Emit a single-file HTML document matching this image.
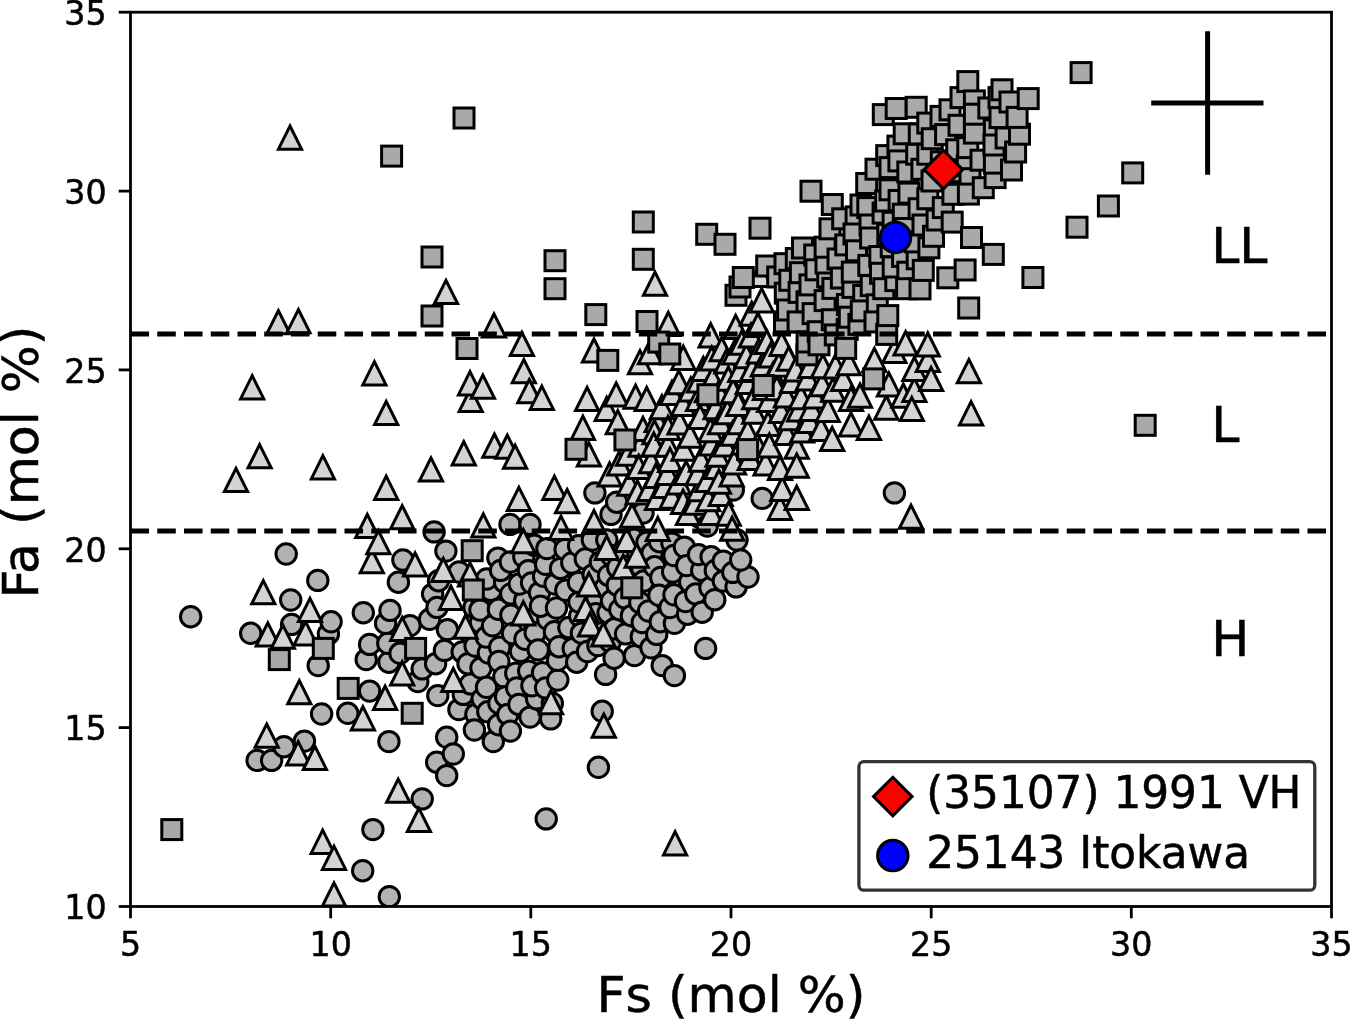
<!DOCTYPE html>
<html><head><meta charset="utf-8"><title>Fa vs Fs</title>
<style>
html,body{margin:0;padding:0;background:#fff;}
svg{display:block;}
text{font-family:"DejaVu Sans","Liberation Sans",sans-serif;fill:#000;stroke:#000;stroke-width:0.5px;}
</style></head><body>
<svg width="1350" height="1019" viewBox="0 0 1350 1019">
<rect width="1350" height="1019" fill="#fff"/>
<defs><clipPath id="ax"><rect x="130.5" y="12.2" width="1201.0" height="894.3"/></clipPath></defs>
<g clip-path="url(#ax)">
<g id="H" fill="#b2b2b2" stroke="#000" stroke-width="3.0">
<circle cx="190.7" cy="616.7" r="10.2"/>
<circle cx="257.1" cy="760.4" r="10.2"/>
<circle cx="250.7" cy="633.3" r="10.2"/>
<circle cx="271.6" cy="760.4" r="10.2"/>
<circle cx="284" cy="746.7" r="10.2"/>
<circle cx="291.6" cy="624.4" r="10.2"/>
<circle cx="290.7" cy="600" r="10.2"/>
<circle cx="286.2" cy="554" r="10.2"/>
<circle cx="304.4" cy="741.1" r="10.2"/>
<circle cx="318.2" cy="665.6" r="10.2"/>
<circle cx="317.8" cy="580.4" r="10.2"/>
<circle cx="321.6" cy="714" r="10.2"/>
<circle cx="328.4" cy="634" r="10.2"/>
<circle cx="331.1" cy="621.8" r="10.2"/>
<circle cx="347.8" cy="713.3" r="10.2"/>
<circle cx="362.7" cy="870.7" r="10.2"/>
<circle cx="372.9" cy="829.6" r="10.2"/>
<circle cx="363.3" cy="612.7" r="10.2"/>
<circle cx="366.2" cy="659.6" r="10.2"/>
<circle cx="369.6" cy="644.4" r="10.2"/>
<circle cx="369.6" cy="691.1" r="10.2"/>
<circle cx="389.3" cy="896.7" r="10.2"/>
<circle cx="388.9" cy="741.6" r="10.2"/>
<circle cx="388.9" cy="662.2" r="10.2"/>
<circle cx="387.8" cy="643.3" r="10.2"/>
<circle cx="385.6" cy="623.3" r="10.2"/>
<circle cx="390" cy="610.4" r="10.2"/>
<circle cx="400" cy="653.3" r="10.2"/>
<circle cx="398.4" cy="582.2" r="10.2"/>
<circle cx="402.9" cy="560" r="10.2"/>
<circle cx="410" cy="625.6" r="10.2"/>
<circle cx="417.8" cy="681.5" r="10.2"/>
<circle cx="422.2" cy="798.9" r="10.2"/>
<circle cx="422.2" cy="668.9" r="10.2"/>
<circle cx="436.7" cy="762.2" r="10.2"/>
<circle cx="429.6" cy="619.3" r="10.2"/>
<circle cx="432.6" cy="594.1" r="10.2"/>
<circle cx="437" cy="607.4" r="10.2"/>
<circle cx="435.6" cy="663.7" r="10.2"/>
<circle cx="437.8" cy="695.6" r="10.2"/>
<circle cx="438.5" cy="580.7" r="10.2"/>
<circle cx="446.7" cy="775.6" r="10.2"/>
<circle cx="434.1" cy="531.9" r="10.2"/>
<circle cx="444.4" cy="650.4" r="10.2"/>
<circle cx="446.7" cy="737.3" r="10.2"/>
<circle cx="447.4" cy="629.6" r="10.2"/>
<circle cx="453.3" cy="754" r="10.2"/>
<circle cx="445.9" cy="551.1" r="10.2"/>
<circle cx="458.9" cy="709.6" r="10.2"/>
<circle cx="459" cy="572" r="10.2"/>
<circle cx="462.2" cy="651.9" r="10.2"/>
<circle cx="463.3" cy="694.4" r="10.2"/>
<circle cx="475.9" cy="714.3" r="10.2"/>
<circle cx="470.5" cy="683.9" r="10.2"/>
<circle cx="468" cy="663.7" r="10.2"/>
<circle cx="471" cy="634" r="10.2"/>
<circle cx="474.4" cy="730" r="10.2"/>
<circle cx="474" cy="607.4" r="10.2"/>
<circle cx="475.1" cy="646.1" r="10.2"/>
<circle cx="482.2" cy="698.9" r="10.2"/>
<circle cx="477.8" cy="593.1" r="10.2"/>
<circle cx="481" cy="668" r="10.2"/>
<circle cx="480.5" cy="622.8" r="10.2"/>
<circle cx="480" cy="610" r="10.2"/>
<circle cx="487.8" cy="711.8" r="10.2"/>
<circle cx="488.4" cy="653" r="10.2"/>
<circle cx="486.5" cy="687.3" r="10.2"/>
<circle cx="490.8" cy="590.4" r="10.2"/>
<circle cx="493.3" cy="741.6" r="10.2"/>
<circle cx="486.7" cy="579" r="10.2"/>
<circle cx="486.2" cy="637" r="10.2"/>
<circle cx="498.5" cy="724.7" r="10.2"/>
<circle cx="492.5" cy="625.8" r="10.2"/>
<circle cx="498.9" cy="703.3" r="10.2"/>
<circle cx="499.7" cy="647.2" r="10.2"/>
<circle cx="498.9" cy="661.5" r="10.2"/>
<circle cx="498.4" cy="609.3" r="10.2"/>
<circle cx="503.8" cy="676.9" r="10.2"/>
<circle cx="505.6" cy="696.7" r="10.2"/>
<circle cx="497.9" cy="558.1" r="10.2"/>
<circle cx="507.8" cy="714.4" r="10.2"/>
<circle cx="504.6" cy="582.3" r="10.2"/>
<circle cx="510.4" cy="731.1" r="10.2"/>
<circle cx="500.6" cy="570.4" r="10.2"/>
<circle cx="510.8" cy="593.9" r="10.2"/>
<circle cx="515.8" cy="673.2" r="10.2"/>
<circle cx="510.9" cy="615.1" r="10.2"/>
<circle cx="512.5" cy="633.5" r="10.2"/>
<circle cx="516.7" cy="688" r="10.2"/>
<circle cx="518.9" cy="704.4" r="10.2"/>
<circle cx="510.3" cy="562" r="10.2"/>
<circle cx="510" cy="524.4" r="10.2"/>
<circle cx="520.5" cy="651.3" r="10.2"/>
<circle cx="524.7" cy="600.6" r="10.2"/>
<circle cx="519.3" cy="584" r="10.2"/>
<circle cx="528.7" cy="671.1" r="10.2"/>
<circle cx="525" cy="639.2" r="10.2"/>
<circle cx="523.8" cy="556.8" r="10.2"/>
<circle cx="530" cy="717.1" r="10.2"/>
<circle cx="528.4" cy="570.6" r="10.2"/>
<circle cx="531.6" cy="583" r="10.2"/>
<circle cx="532.4" cy="619.6" r="10.2"/>
<circle cx="536.7" cy="698.9" r="10.2"/>
<circle cx="531.9" cy="685.8" r="10.2"/>
<circle cx="535.2" cy="632.7" r="10.2"/>
<circle cx="530" cy="524.4" r="10.2"/>
<circle cx="546.2" cy="818.9" r="10.2"/>
<circle cx="534.3" cy="545.3" r="10.2"/>
<circle cx="538.2" cy="649.9" r="10.2"/>
<circle cx="542.5" cy="672.7" r="10.2"/>
<circle cx="550.7" cy="718.9" r="10.2"/>
<circle cx="539.5" cy="592.6" r="10.2"/>
<circle cx="547.8" cy="619.3" r="10.2"/>
<circle cx="540.5" cy="606.2" r="10.2"/>
<circle cx="552.3" cy="703.2" r="10.2"/>
<circle cx="543.6" cy="576.3" r="10.2"/>
<circle cx="545.6" cy="687.9" r="10.2"/>
<circle cx="545.6" cy="564.3" r="10.2"/>
<circle cx="546.9" cy="548.6" r="10.2"/>
<circle cx="556.5" cy="608" r="10.2"/>
<circle cx="554.4" cy="631.7" r="10.2"/>
<circle cx="557.8" cy="680" r="10.2"/>
<circle cx="557.5" cy="660.3" r="10.2"/>
<circle cx="555.1" cy="584.1" r="10.2"/>
<circle cx="560.5" cy="568.4" r="10.2"/>
<circle cx="559" cy="646.7" r="10.2"/>
<circle cx="565.1" cy="549.4" r="10.2"/>
<circle cx="573.2" cy="648.4" r="10.2"/>
<circle cx="565.8" cy="590.3" r="10.2"/>
<circle cx="568.9" cy="627.5" r="10.2"/>
<circle cx="579.7" cy="616.1" r="10.2"/>
<circle cx="571.8" cy="563" r="10.2"/>
<circle cx="578.9" cy="602.1" r="10.2"/>
<circle cx="576.7" cy="662.2" r="10.2"/>
<circle cx="578.5" cy="582.4" r="10.2"/>
<circle cx="581.4" cy="633.1" r="10.2"/>
<circle cx="578.6" cy="545.8" r="10.2"/>
<circle cx="587.5" cy="651.5" r="10.2"/>
<circle cx="585.3" cy="559" r="10.2"/>
<circle cx="598.4" cy="767.3" r="10.2"/>
<circle cx="596.7" cy="597" r="10.2"/>
<circle cx="597.9" cy="645.5" r="10.2"/>
<circle cx="600.3" cy="632.5" r="10.2"/>
<circle cx="593.1" cy="574.6" r="10.2"/>
<circle cx="595.8" cy="613.6" r="10.2"/>
<circle cx="592.4" cy="540" r="10.2"/>
<circle cx="602.2" cy="711.3" r="10.2"/>
<circle cx="605.6" cy="674.4" r="10.2"/>
<circle cx="600.4" cy="562.1" r="10.2"/>
<circle cx="594.9" cy="492.9" r="10.2"/>
<circle cx="608.1" cy="613" r="10.2"/>
<circle cx="605.2" cy="588" r="10.2"/>
<circle cx="606.8" cy="539.9" r="10.2"/>
<circle cx="610.3" cy="641.7" r="10.2"/>
<circle cx="614.4" cy="628.8" r="10.2"/>
<circle cx="611.5" cy="600.8" r="10.2"/>
<circle cx="611.3" cy="555.5" r="10.2"/>
<circle cx="608.6" cy="575.4" r="10.2"/>
<circle cx="617.3" cy="585.2" r="10.2"/>
<circle cx="611" cy="514.4" r="10.2"/>
<circle cx="614.1" cy="658.2" r="10.2"/>
<circle cx="619.8" cy="609.7" r="10.2"/>
<circle cx="617.7" cy="567.5" r="10.2"/>
<circle cx="623.1" cy="551.4" r="10.2"/>
<circle cx="625.6" cy="633.9" r="10.2"/>
<circle cx="616.7" cy="502.2" r="10.2"/>
<circle cx="624.9" cy="597.9" r="10.2"/>
<circle cx="631.4" cy="615.7" r="10.2"/>
<circle cx="634.4" cy="655.6" r="10.2"/>
<circle cx="629.7" cy="565.9" r="10.2"/>
<circle cx="638" cy="554.6" r="10.2"/>
<circle cx="634.7" cy="589.9" r="10.2"/>
<circle cx="641.7" cy="567.9" r="10.2"/>
<circle cx="639.8" cy="602.4" r="10.2"/>
<circle cx="641.3" cy="636.7" r="10.2"/>
<circle cx="634.2" cy="539.3" r="10.2"/>
<circle cx="642.2" cy="622.5" r="10.2"/>
<circle cx="643.7" cy="581" r="10.2"/>
<circle cx="643" cy="513" r="10.2"/>
<circle cx="648.6" cy="611" r="10.2"/>
<circle cx="651" cy="647.8" r="10.2"/>
<circle cx="647" cy="542.2" r="10.2"/>
<circle cx="656.7" cy="634.4" r="10.2"/>
<circle cx="652" cy="553.3" r="10.2"/>
<circle cx="662.2" cy="665.6" r="10.2"/>
<circle cx="654.6" cy="566.8" r="10.2"/>
<circle cx="659.5" cy="541.7" r="10.2"/>
<circle cx="660.2" cy="621.7" r="10.2"/>
<circle cx="660.8" cy="577.5" r="10.2"/>
<circle cx="658.9" cy="595.3" r="10.2"/>
<circle cx="674.4" cy="623.3" r="10.2"/>
<circle cx="670" cy="607.5" r="10.2"/>
<circle cx="674.4" cy="675.6" r="10.2"/>
<circle cx="672.7" cy="572" r="10.2"/>
<circle cx="674" cy="594.8" r="10.2"/>
<circle cx="671.9" cy="543.1" r="10.2"/>
<circle cx="674" cy="555.5" r="10.2"/>
<circle cx="689.7" cy="582.1" r="10.2"/>
<circle cx="684.4" cy="547.1" r="10.2"/>
<circle cx="687.6" cy="614.2" r="10.2"/>
<circle cx="686.7" cy="565.6" r="10.2"/>
<circle cx="685.5" cy="601.5" r="10.2"/>
<circle cx="695.8" cy="593.9" r="10.2"/>
<circle cx="702.2" cy="612.2" r="10.2"/>
<circle cx="701.7" cy="570.4" r="10.2"/>
<circle cx="698.5" cy="554.6" r="10.2"/>
<circle cx="705.6" cy="648.4" r="10.2"/>
<circle cx="710" cy="587.8" r="10.2"/>
<circle cx="699" cy="517" r="10.2"/>
<circle cx="714.8" cy="599.7" r="10.2"/>
<circle cx="707.3" cy="526" r="10.2"/>
<circle cx="711.1" cy="556.8" r="10.2"/>
<circle cx="715.3" cy="570.5" r="10.2"/>
<circle cx="723.3" cy="581.1" r="10.2"/>
<circle cx="723.3" cy="561.1" r="10.2"/>
<circle cx="736.1" cy="586.9" r="10.2"/>
<circle cx="733.3" cy="490" r="10.2"/>
<circle cx="732.8" cy="572.4" r="10.2"/>
<circle cx="748" cy="577" r="10.2"/>
<circle cx="737" cy="540" r="10.2"/>
<circle cx="740.7" cy="560" r="10.2"/>
<circle cx="762.2" cy="498.4" r="10.2"/>
<circle cx="894.4" cy="492.9" r="10.2"/>
</g>
<g stroke="#000" stroke-width="5" fill="none">
<line x1="1207.6" y1="31.3" x2="1207.6" y2="174.8"/>
<line x1="1151.2" y1="102.9" x2="1263.5" y2="102.9"/>
</g>
<g id="L" fill="#d3d3d3" stroke="#000" stroke-width="3.0" stroke-linejoin="miter" stroke-miterlimit="10">
<path d="M236 468.4l11.6 23.2h-23.2z"/>
<path d="M266.7 724l11.6 23.2h-23.2z"/>
<path d="M252.2 375.7l11.6 23.2h-23.2z"/>
<path d="M259.6 444.6l11.6 23.2h-23.2z"/>
<path d="M267.8 622.8l11.6 23.2h-23.2z"/>
<path d="M263.3 580.6l11.6 23.2h-23.2z"/>
<path d="M282.9 625.1l11.6 23.2h-23.2z"/>
<path d="M299.3 680.6l11.6 23.2h-23.2z"/>
<path d="M278.4 310.6l11.6 23.2h-23.2z"/>
<path d="M298.2 741.7l11.6 23.2h-23.2z"/>
<path d="M305.6 621.7l11.6 23.2h-23.2z"/>
<path d="M314.9 746.2l11.6 23.2h-23.2z"/>
<path d="M310 598.4l11.6 23.2h-23.2z"/>
<path d="M290 126l11.6 23.2h-23.2z"/>
<path d="M298.4 309.5l11.6 23.2h-23.2z"/>
<path d="M322.7 830.2l11.6 23.2h-23.2z"/>
<path d="M334 882.8l11.6 23.2h-23.2z"/>
<path d="M334 846.2l11.6 23.2h-23.2z"/>
<path d="M322.9 455.7l11.6 23.2h-23.2z"/>
<path d="M362.9 706.7l11.6 23.2h-23.2z"/>
<path d="M367.3 514.4l11.6 23.2h-23.2z"/>
<path d="M371.8 549.5l11.6 23.2h-23.2z"/>
<path d="M385.1 686.2l11.6 23.2h-23.2z"/>
<path d="M378.4 530.6l11.6 23.2h-23.2z"/>
<path d="M398.2 779.1l11.6 23.2h-23.2z"/>
<path d="M374.4 361.7l11.6 23.2h-23.2z"/>
<path d="M386.2 476.2l11.6 23.2h-23.2z"/>
<path d="M386.2 401.3l11.6 23.2h-23.2z"/>
<path d="M402.2 661.7l11.6 23.2h-23.2z"/>
<path d="M402.2 617.3l11.6 23.2h-23.2z"/>
<path d="M418.9 808.4l11.6 23.2h-23.2z"/>
<path d="M402.2 505.6l11.6 23.2h-23.2z"/>
<path d="M415.1 552.8l11.6 23.2h-23.2z"/>
<path d="M431 457.9l11.6 23.2h-23.2z"/>
<path d="M443.3 558.4l11.6 23.2h-23.2z"/>
<path d="M451 586.2l11.6 23.2h-23.2z"/>
<path d="M453.3 668.4l11.6 23.2h-23.2z"/>
<path d="M446 280.4l11.6 23.2h-23.2z"/>
<path d="M465.6 615.1l11.6 23.2h-23.2z"/>
<path d="M470 562.8l11.6 23.2h-23.2z"/>
<path d="M463.8 441.7l11.6 23.2h-23.2z"/>
<path d="M470.7 388.4l11.6 23.2h-23.2z"/>
<path d="M470 371.7l11.6 23.2h-23.2z"/>
<path d="M483.3 513.9l11.6 23.2h-23.2z"/>
<path d="M482.9 375.1l11.6 23.2h-23.2z"/>
<path d="M494.4 434l11.6 23.2h-23.2z"/>
<path d="M494 313.8l11.6 23.2h-23.2z"/>
<path d="M507.3 435.1l11.6 23.2h-23.2z"/>
<path d="M523.3 601.7l11.6 23.2h-23.2z"/>
<path d="M515.1 445.1l11.6 23.2h-23.2z"/>
<path d="M518.9 487.3l11.6 23.2h-23.2z"/>
<path d="M523.3 529.5l11.6 23.2h-23.2z"/>
<path d="M523.8 359.5l11.6 23.2h-23.2z"/>
<path d="M521.9 332.4l11.6 23.2h-23.2z"/>
<path d="M529.3 379.5l11.6 23.2h-23.2z"/>
<path d="M551 690.6l11.6 23.2h-23.2z"/>
<path d="M541.8 386.2l11.6 23.2h-23.2z"/>
<path d="M554.4 476.2l11.6 23.2h-23.2z"/>
<path d="M561 516.2l11.6 23.2h-23.2z"/>
<path d="M567.1 489.5l11.6 23.2h-23.2z"/>
<path d="M585.6 597.4l11.6 23.2h-23.2z"/>
<path d="M582.9 416.2l11.6 23.2h-23.2z"/>
<path d="M589 572.8l11.6 23.2h-23.2z"/>
<path d="M590 612.8l11.6 23.2h-23.2z"/>
<path d="M587.1 387.3l11.6 23.2h-23.2z"/>
<path d="M588.9 442.8l11.6 23.2h-23.2z"/>
<path d="M594 510.4l11.6 23.2h-23.2z"/>
<path d="M603.8 714l11.6 23.2h-23.2z"/>
<path d="M603.3 622.8l11.6 23.2h-23.2z"/>
<path d="M606.7 536.2l11.6 23.2h-23.2z"/>
<path d="M609.6 462.8l11.6 23.2h-23.2z"/>
<path d="M594 338.9l11.6 23.2h-23.2z"/>
<path d="M606.7 397.3l11.6 23.2h-23.2z"/>
<path d="M619.2 451.8l11.6 23.2h-23.2z"/>
<path d="M616.2 382.8l11.6 23.2h-23.2z"/>
<path d="M623.3 555.1l11.6 23.2h-23.2z"/>
<path d="M617.8 410.6l11.6 23.2h-23.2z"/>
<path d="M626.7 528.4l11.6 23.2h-23.2z"/>
<path d="M628 442.1l11.6 23.2h-23.2z"/>
<path d="M629.3 472l11.6 23.2h-23.2z"/>
<path d="M632 504l11.6 23.2h-23.2z"/>
<path d="M636.7 544l11.6 23.2h-23.2z"/>
<path d="M637.5 480.9l11.6 23.2h-23.2z"/>
<path d="M640.5 433l11.6 23.2h-23.2z"/>
<path d="M635.6 385.1l11.6 23.2h-23.2z"/>
<path d="M638.7 455.4l11.6 23.2h-23.2z"/>
<path d="M640 350.6l11.6 23.2h-23.2z"/>
<path d="M646.7 387.3l11.6 23.2h-23.2z"/>
<path d="M649.1 477.3l11.6 23.2h-23.2z"/>
<path d="M651.1 449.6l11.6 23.2h-23.2z"/>
<path d="M643 417.4l11.6 23.2h-23.2z"/>
<path d="M655.8 464.3l11.6 23.2h-23.2z"/>
<path d="M656.7 408.4l11.6 23.2h-23.2z"/>
<path d="M657 486.3l11.6 23.2h-23.2z"/>
<path d="M650 340.6l11.6 23.2h-23.2z"/>
<path d="M675.1 831.7l11.6 23.2h-23.2z"/>
<path d="M654.5 420.6l11.6 23.2h-23.2z"/>
<path d="M657.8 517.3l11.6 23.2h-23.2z"/>
<path d="M653.8 432.9l11.6 23.2h-23.2z"/>
<path d="M661.9 395.6l11.6 23.2h-23.2z"/>
<path d="M664.6 474.2l11.6 23.2h-23.2z"/>
<path d="M655 272.1l11.6 23.2h-23.2z"/>
<path d="M667.7 433l11.6 23.2h-23.2z"/>
<path d="M667.5 461.4l11.6 23.2h-23.2z"/>
<path d="M671.7 485l11.6 23.2h-23.2z"/>
<path d="M670 448.3l11.6 23.2h-23.2z"/>
<path d="M668 416.4l11.6 23.2h-23.2z"/>
<path d="M668.3 312.4l11.6 23.2h-23.2z"/>
<path d="M672 381.4l11.6 23.2h-23.2z"/>
<path d="M679.5 410.9l11.6 23.2h-23.2z"/>
<path d="M678.8 470.7l11.6 23.2h-23.2z"/>
<path d="M683.1 490.2l11.6 23.2h-23.2z"/>
<path d="M683.6 437l11.6 23.2h-23.2z"/>
<path d="M686.1 461.4l11.6 23.2h-23.2z"/>
<path d="M683 392.4l11.6 23.2h-23.2z"/>
<path d="M688 501.4l11.6 23.2h-23.2z"/>
<path d="M678.9 370.6l11.6 23.2h-23.2z"/>
<path d="M683.3 346.2l11.6 23.2h-23.2z"/>
<path d="M690.8 377.8l11.6 23.2h-23.2z"/>
<path d="M690 424l11.6 23.2h-23.2z"/>
<path d="M695.4 491.1l11.6 23.2h-23.2z"/>
<path d="M698.1 387.2l11.6 23.2h-23.2z"/>
<path d="M699.2 477.6l11.6 23.2h-23.2z"/>
<path d="M697.8 461.6l11.6 23.2h-23.2z"/>
<path d="M700 405.4l11.6 23.2h-23.2z"/>
<path d="M699.1 368.8l11.6 23.2h-23.2z"/>
<path d="M700.9 448l11.6 23.2h-23.2z"/>
<path d="M711 501.4l11.6 23.2h-23.2z"/>
<path d="M708.2 487.6l11.6 23.2h-23.2z"/>
<path d="M711 431.9l11.6 23.2h-23.2z"/>
<path d="M703.3 357.3l11.6 23.2h-23.2z"/>
<path d="M707.3 468.4l11.6 23.2h-23.2z"/>
<path d="M710.5 418.6l11.6 23.2h-23.2z"/>
<path d="M710.7 323.7l11.6 23.2h-23.2z"/>
<path d="M706.8 378.6l11.6 23.2h-23.2z"/>
<path d="M716.6 455.3l11.6 23.2h-23.2z"/>
<path d="M720.7 482.4l11.6 23.2h-23.2z"/>
<path d="M717.5 443.1l11.6 23.2h-23.2z"/>
<path d="M718.9 470l11.6 23.2h-23.2z"/>
<path d="M712.5 367.3l11.6 23.2h-23.2z"/>
<path d="M715.6 395.6l11.6 23.2h-23.2z"/>
<path d="M711.7 346.8l11.6 23.2h-23.2z"/>
<path d="M725 432.8l11.6 23.2h-23.2z"/>
<path d="M719 380.8l11.6 23.2h-23.2z"/>
<path d="M720.1 410.6l11.6 23.2h-23.2z"/>
<path d="M721.7 337.5l11.6 23.2h-23.2z"/>
<path d="M731.6 462.7l11.6 23.2h-23.2z"/>
<path d="M726.5 349.8l11.6 23.2h-23.2z"/>
<path d="M728.7 502l11.6 23.2h-23.2z"/>
<path d="M728.3 367l11.6 23.2h-23.2z"/>
<path d="M727.4 400.5l11.6 23.2h-23.2z"/>
<path d="M732.2 517.1l11.6 23.2h-23.2z"/>
<path d="M734 450.7l11.6 23.2h-23.2z"/>
<path d="M733.1 379.5l11.6 23.2h-23.2z"/>
<path d="M732.6 422l11.6 23.2h-23.2z"/>
<path d="M734.5 340.8l11.6 23.2h-23.2z"/>
<path d="M735.7 315.4l11.6 23.2h-23.2z"/>
<path d="M739.1 410.6l11.6 23.2h-23.2z"/>
<path d="M743.3 430.8l11.6 23.2h-23.2z"/>
<path d="M738.2 392.4l11.6 23.2h-23.2z"/>
<path d="M741.8 331.1l11.6 23.2h-23.2z"/>
<path d="M747.7 370.3l11.6 23.2h-23.2z"/>
<path d="M747.7 420.1l11.6 23.2h-23.2z"/>
<path d="M740.2 358.2l11.6 23.2h-23.2z"/>
<path d="M746.4 344.5l11.6 23.2h-23.2z"/>
<path d="M749.8 446.2l11.6 23.2h-23.2z"/>
<path d="M757.2 433.3l11.6 23.2h-23.2z"/>
<path d="M752.2 357.3l11.6 23.2h-23.2z"/>
<path d="M754.2 400.1l11.6 23.2h-23.2z"/>
<path d="M751.7 302.1l11.6 23.2h-23.2z"/>
<path d="M754.2 385.5l11.6 23.2h-23.2z"/>
<path d="M751 323.8l11.6 23.2h-23.2z"/>
<path d="M758.7 339.7l11.6 23.2h-23.2z"/>
<path d="M762.8 352.7l11.6 23.2h-23.2z"/>
<path d="M758 313.4l11.6 23.2h-23.2z"/>
<path d="M765.6 451.7l11.6 23.2h-23.2z"/>
<path d="M760 263.4l11.6 23.2h-23.2z"/>
<path d="M768.1 412.2l11.6 23.2h-23.2z"/>
<path d="M769.1 388.3l11.6 23.2h-23.2z"/>
<path d="M761.7 288.7l11.6 23.2h-23.2z"/>
<path d="M765 376.3l11.6 23.2h-23.2z"/>
<path d="M766.7 330.4l11.6 23.2h-23.2z"/>
<path d="M769.4 433.9l11.6 23.2h-23.2z"/>
<path d="M770.5 343.9l11.6 23.2h-23.2z"/>
<path d="M773 363.1l11.6 23.2h-23.2z"/>
<path d="M780 496.2l11.6 23.2h-23.2z"/>
<path d="M776.8 376.6l11.6 23.2h-23.2z"/>
<path d="M782.2 477.3l11.6 23.2h-23.2z"/>
<path d="M781 399.3l11.6 23.2h-23.2z"/>
<path d="M780 456.2l11.6 23.2h-23.2z"/>
<path d="M778.8 353.1l11.6 23.2h-23.2z"/>
<path d="M781.6 332.2l11.6 23.2h-23.2z"/>
<path d="M786.4 421.4l11.6 23.2h-23.2z"/>
<path d="M785.9 383.9l11.6 23.2h-23.2z"/>
<path d="M796.7 486.2l11.6 23.2h-23.2z"/>
<path d="M792 369.4l11.6 23.2h-23.2z"/>
<path d="M788.7 347.1l11.6 23.2h-23.2z"/>
<path d="M790.5 406.6l11.6 23.2h-23.2z"/>
<path d="M796.7 435.1l11.6 23.2h-23.2z"/>
<path d="M795.8 357.9l11.6 23.2h-23.2z"/>
<path d="M799.1 397.7l11.6 23.2h-23.2z"/>
<path d="M796.7 454l11.6 23.2h-23.2z"/>
<path d="M801 385.6l11.6 23.2h-23.2z"/>
<path d="M802.1 418.9l11.6 23.2h-23.2z"/>
<path d="M809.2 409.4l11.6 23.2h-23.2z"/>
<path d="M807.8 366.7l11.6 23.2h-23.2z"/>
<path d="M811.4 397.2l11.6 23.2h-23.2z"/>
<path d="M810.2 354.3l11.6 23.2h-23.2z"/>
<path d="M821 417.4l11.6 23.2h-23.2z"/>
<path d="M814.9 384.9l11.6 23.2h-23.2z"/>
<path d="M822 372.6l11.6 23.2h-23.2z"/>
<path d="M827.8 398.4l11.6 23.2h-23.2z"/>
<path d="M832.2 427.3l11.6 23.2h-23.2z"/>
<path d="M822.9 354.6l11.6 23.2h-23.2z"/>
<path d="M833.1 378.1l11.6 23.2h-23.2z"/>
<path d="M835.5 354.7l11.6 23.2h-23.2z"/>
<path d="M843.2 367.3l11.6 23.2h-23.2z"/>
<path d="M851 412.8l11.6 23.2h-23.2z"/>
<path d="M851 387.3l11.6 23.2h-23.2z"/>
<path d="M848.7 351.5l11.6 23.2h-23.2z"/>
<path d="M860 384l11.6 23.2h-23.2z"/>
<path d="M868.9 416.2l11.6 23.2h-23.2z"/>
<path d="M874.4 348.4l11.6 23.2h-23.2z"/>
<path d="M886.3 396l11.6 23.2h-23.2z"/>
<path d="M888.9 372.8l11.6 23.2h-23.2z"/>
<path d="M894.4 339.4l11.6 23.2h-23.2z"/>
<path d="M903.3 384l11.6 23.2h-23.2z"/>
<path d="M911 505.1l11.6 23.2h-23.2z"/>
<path d="M905.6 331.7l11.6 23.2h-23.2z"/>
<path d="M914.4 378.4l11.6 23.2h-23.2z"/>
<path d="M911.8 397.3l11.6 23.2h-23.2z"/>
<path d="M914.4 357.3l11.6 23.2h-23.2z"/>
<path d="M927.8 348.4l11.6 23.2h-23.2z"/>
<path d="M927.8 332.8l11.6 23.2h-23.2z"/>
<path d="M931.1 367.3l11.6 23.2h-23.2z"/>
<path d="M968.9 359.5l11.6 23.2h-23.2z"/>
<path d="M971.1 401.7l11.6 23.2h-23.2z"/>
</g>
<g id="LL" fill="#a9a9a9" stroke="#000" stroke-width="3.0">
<rect x="161.8" y="819.6" width="20" height="20"/>
<rect x="269.3" y="649.6" width="20" height="20"/>
<rect x="313.3" y="638.4" width="20" height="20"/>
<rect x="338.2" y="678.4" width="20" height="20"/>
<rect x="381.6" y="146.1" width="20" height="20"/>
<rect x="402.2" y="703.3" width="20" height="20"/>
<rect x="405.6" y="638.4" width="20" height="20"/>
<rect x="422" y="306" width="20" height="20"/>
<rect x="422" y="247" width="20" height="20"/>
<rect x="463.3" y="580" width="20" height="20"/>
<rect x="462.2" y="540.7" width="20" height="20"/>
<rect x="457" y="338.5" width="20" height="20"/>
<rect x="454" y="108" width="20" height="20"/>
<rect x="545" y="278.7" width="20" height="20"/>
<rect x="545" y="250.7" width="20" height="20"/>
<rect x="566" y="439.3" width="20" height="20"/>
<rect x="585.8" y="304.6" width="20" height="20"/>
<rect x="597.8" y="350.4" width="20" height="20"/>
<rect x="621.8" y="577.8" width="20" height="20"/>
<rect x="614.9" y="430" width="20" height="20"/>
<rect x="637" y="311.5" width="20" height="20"/>
<rect x="633.3" y="249.3" width="20" height="20"/>
<rect x="633.3" y="212" width="20" height="20"/>
<rect x="648.7" y="332.1" width="20" height="20"/>
<rect x="659.8" y="344" width="20" height="20"/>
<rect x="697.9" y="384.7" width="20" height="20"/>
<rect x="696.7" y="224.3" width="20" height="20"/>
<rect x="715" y="234.3" width="20" height="20"/>
<rect x="726" y="285.3" width="20" height="20"/>
<rect x="730" y="277" width="20" height="20"/>
<rect x="737.6" y="439.6" width="20" height="20"/>
<rect x="733.3" y="267.5" width="20" height="20"/>
<rect x="753.2" y="375.5" width="20" height="20"/>
<rect x="750" y="218.2" width="20" height="20"/>
<rect x="756.7" y="256" width="20" height="20"/>
<rect x="767.7" y="267" width="20" height="20"/>
<rect x="774.5" y="311.9" width="20" height="20"/>
<rect x="775" y="253.7" width="20" height="20"/>
<rect x="775.3" y="283.2" width="20" height="20"/>
<rect x="777.6" y="300" width="20" height="20"/>
<rect x="779.8" y="270.3" width="20" height="20"/>
<rect x="788.1" y="311.9" width="20" height="20"/>
<rect x="789.1" y="282.4" width="20" height="20"/>
<rect x="786.3" y="248.5" width="20" height="20"/>
<rect x="797" y="344.8" width="20" height="20"/>
<rect x="797.1" y="332" width="20" height="20"/>
<rect x="790.4" y="262.7" width="20" height="20"/>
<rect x="792.5" y="238" width="20" height="20"/>
<rect x="797" y="291.8" width="20" height="20"/>
<rect x="803.1" y="303.6" width="20" height="20"/>
<rect x="804.7" y="245" width="20" height="20"/>
<rect x="801" y="181.2" width="20" height="20"/>
<rect x="800" y="274.9" width="20" height="20"/>
<rect x="808.2" y="321.7" width="20" height="20"/>
<rect x="806" y="259.8" width="20" height="20"/>
<rect x="809" y="334.8" width="20" height="20"/>
<rect x="815.1" y="290.6" width="20" height="20"/>
<rect x="817.7" y="266.8" width="20" height="20"/>
<rect x="816" y="253" width="20" height="20"/>
<rect x="815.1" y="237.2" width="20" height="20"/>
<rect x="820" y="218.8" width="20" height="20"/>
<rect x="822.3" y="309.7" width="20" height="20"/>
<rect x="822.9" y="278.4" width="20" height="20"/>
<rect x="825.3" y="324.9" width="20" height="20"/>
<rect x="822.3" y="194.5" width="20" height="20"/>
<rect x="828" y="249" width="20" height="20"/>
<rect x="831.4" y="268" width="20" height="20"/>
<rect x="837.2" y="319.4" width="20" height="20"/>
<rect x="835.7" y="338.4" width="20" height="20"/>
<rect x="837.4" y="294.5" width="20" height="20"/>
<rect x="832.7" y="208.8" width="20" height="20"/>
<rect x="839.3" y="307.2" width="20" height="20"/>
<rect x="835.8" y="234.9" width="20" height="20"/>
<rect x="842.9" y="277.4" width="20" height="20"/>
<rect x="842.3" y="262.1" width="20" height="20"/>
<rect x="846.1" y="206.9" width="20" height="20"/>
<rect x="848.9" y="314.4" width="20" height="20"/>
<rect x="853.7" y="285.5" width="20" height="20"/>
<rect x="851.3" y="300.9" width="20" height="20"/>
<rect x="844" y="224" width="20" height="20"/>
<rect x="846.5" y="240.8" width="20" height="20"/>
<rect x="851" y="195" width="20" height="20"/>
<rect x="861.2" y="275.6" width="20" height="20"/>
<rect x="858.8" y="255.4" width="20" height="20"/>
<rect x="857.8" y="197.6" width="20" height="20"/>
<rect x="867.3" y="294.8" width="20" height="20"/>
<rect x="863.6" y="368.9" width="20" height="20"/>
<rect x="865" y="311.9" width="20" height="20"/>
<rect x="860" y="215" width="20" height="20"/>
<rect x="860.6" y="228" width="20" height="20"/>
<rect x="856.7" y="173.5" width="20" height="20"/>
<rect x="869.8" y="246.5" width="20" height="20"/>
<rect x="870.5" y="263.3" width="20" height="20"/>
<rect x="876.7" y="324.4" width="20" height="20"/>
<rect x="866" y="159.2" width="20" height="20"/>
<rect x="873.8" y="278.7" width="20" height="20"/>
<rect x="873.1" y="203.1" width="20" height="20"/>
<rect x="877.8" y="305.6" width="20" height="20"/>
<rect x="873.3" y="104.6" width="20" height="20"/>
<rect x="885.8" y="270.6" width="20" height="20"/>
<rect x="875.6" y="191" width="20" height="20"/>
<rect x="877.8" y="224.4" width="20" height="20"/>
<rect x="880" y="179.8" width="20" height="20"/>
<rect x="881.2" y="236.8" width="20" height="20"/>
<rect x="876.7" y="145.6" width="20" height="20"/>
<rect x="889.1" y="190.5" width="20" height="20"/>
<rect x="883.1" y="212.3" width="20" height="20"/>
<rect x="883.2" y="257" width="20" height="20"/>
<rect x="880" y="157.6" width="20" height="20"/>
<rect x="887.9" y="136.1" width="20" height="20"/>
<rect x="892.4" y="230.4" width="20" height="20"/>
<rect x="892.6" y="246.4" width="20" height="20"/>
<rect x="897.8" y="262.2" width="20" height="20"/>
<rect x="888.9" y="150.9" width="20" height="20"/>
<rect x="886.2" y="98.5" width="20" height="20"/>
<rect x="893.3" y="204.2" width="20" height="20"/>
<rect x="897.8" y="162" width="20" height="20"/>
<rect x="895.8" y="218.5" width="20" height="20"/>
<rect x="894.2" y="123.8" width="20" height="20"/>
<rect x="896.6" y="278.7" width="20" height="20"/>
<rect x="898.9" y="183.1" width="20" height="20"/>
<rect x="907.2" y="248.8" width="20" height="20"/>
<rect x="905.2" y="231.9" width="20" height="20"/>
<rect x="909.1" y="198.7" width="20" height="20"/>
<rect x="910" y="278.9" width="20" height="20"/>
<rect x="906.2" y="97.3" width="20" height="20"/>
<rect x="906.7" y="144.2" width="20" height="20"/>
<rect x="909.3" y="124" width="20" height="20"/>
<rect x="913" y="215" width="20" height="20"/>
<rect x="913.3" y="260.4" width="20" height="20"/>
<rect x="911.9" y="159.3" width="20" height="20"/>
<rect x="918.9" y="237.8" width="20" height="20"/>
<rect x="917.8" y="188.7" width="20" height="20"/>
<rect x="917.8" y="144.2" width="20" height="20"/>
<rect x="922" y="171" width="20" height="20"/>
<rect x="917.8" y="113.1" width="20" height="20"/>
<rect x="923.5" y="226.3" width="20" height="20"/>
<rect x="927.1" y="210" width="20" height="20"/>
<rect x="922.2" y="128.7" width="20" height="20"/>
<rect x="937.8" y="267.8" width="20" height="20"/>
<rect x="933.3" y="197.6" width="20" height="20"/>
<rect x="931.3" y="151.8" width="20" height="20"/>
<rect x="931" y="106.4" width="20" height="20"/>
<rect x="940" y="99.8" width="20" height="20"/>
<rect x="942.9" y="184.3" width="20" height="20"/>
<rect x="942.2" y="212.1" width="20" height="20"/>
<rect x="935.6" y="124.6" width="20" height="20"/>
<rect x="941.1" y="161.7" width="20" height="20"/>
<rect x="949" y="115.3" width="20" height="20"/>
<rect x="955.1" y="260" width="20" height="20"/>
<rect x="958.7" y="298" width="20" height="20"/>
<rect x="946.7" y="139.8" width="20" height="20"/>
<rect x="957.3" y="155.2" width="20" height="20"/>
<rect x="960" y="168.7" width="20" height="20"/>
<rect x="961.5" y="227.5" width="20" height="20"/>
<rect x="951" y="87.6" width="20" height="20"/>
<rect x="957.8" y="71.6" width="20" height="20"/>
<rect x="957.8" y="137.6" width="20" height="20"/>
<rect x="958.4" y="184.1" width="20" height="20"/>
<rect x="964.4" y="123.1" width="20" height="20"/>
<rect x="964.4" y="90.9" width="20" height="20"/>
<rect x="971" y="150.2" width="20" height="20"/>
<rect x="964.4" y="104.2" width="20" height="20"/>
<rect x="973.3" y="177.7" width="20" height="20"/>
<rect x="983.3" y="244.4" width="20" height="20"/>
<rect x="978.8" y="98" width="20" height="20"/>
<rect x="985.1" y="167.6" width="20" height="20"/>
<rect x="984.4" y="153.1" width="20" height="20"/>
<rect x="984.4" y="119.8" width="20" height="20"/>
<rect x="984" y="135" width="20" height="20"/>
<rect x="990" y="107.6" width="20" height="20"/>
<rect x="989" y="87.6" width="20" height="20"/>
<rect x="996.1" y="128" width="20" height="20"/>
<rect x="992" y="79.8" width="20" height="20"/>
<rect x="1001.5" y="160" width="20" height="20"/>
<rect x="1000" y="92" width="20" height="20"/>
<rect x="1005.6" y="142" width="20" height="20"/>
<rect x="1009.5" y="124.2" width="20" height="20"/>
<rect x="1007.1" y="107.4" width="20" height="20"/>
<rect x="1022.9" y="267.5" width="20" height="20"/>
<rect x="1018.2" y="88.6" width="20" height="20"/>
<rect x="1067" y="217.2" width="20" height="20"/>
<rect x="1071.1" y="62.6" width="20" height="20"/>
<rect x="1098.4" y="196" width="20" height="20"/>
<rect x="1122.7" y="162.9" width="20" height="20"/>
<rect x="1135.2" y="415.3" width="20" height="20"/>
</g>
<g stroke="#000" stroke-width="5" stroke-dasharray="18.55 8.2" fill="none">
<line x1="130.5" y1="334.1" x2="1331.5" y2="334.1"/>
<line x1="130.5" y1="530.9" x2="1331.5" y2="530.9"/>
</g>
<path d="M943.4 150.3l19.3 19.3l-19.3 19.3l-19.3 -19.3z" fill="#f00" stroke="#000" stroke-width="3"/>
<circle cx="895.5" cy="237.5" r="15.25" fill="#00f" stroke="#000" stroke-width="3"/>
</g>
<g font-size="50.6">
<text x="1211.2" y="262.8">LL</text>
<text x="1211.2" y="441.7">L</text>
<text x="1211.2" y="655.8">H</text>
</g>
<g stroke="#000" stroke-width="2.8" fill="none">
<rect x="130.5" y="12.2" width="1201.0" height="894.3"/>
<line x1="130.5" y1="906.5" x2="130.5" y2="918.3"/>
<line x1="330.7" y1="906.5" x2="330.7" y2="918.3"/>
<line x1="530.8" y1="906.5" x2="530.8" y2="918.3"/>
<line x1="731" y1="906.5" x2="731" y2="918.3"/>
<line x1="931.2" y1="906.5" x2="931.2" y2="918.3"/>
<line x1="1131.3" y1="906.5" x2="1131.3" y2="918.3"/>
<line x1="1331.5" y1="906.5" x2="1331.5" y2="918.3"/>
<line x1="118.7" y1="906.5" x2="130.5" y2="906.5"/>
<line x1="118.7" y1="727.6" x2="130.5" y2="727.6"/>
<line x1="118.7" y1="548.8" x2="130.5" y2="548.8"/>
<line x1="118.7" y1="369.9" x2="130.5" y2="369.9"/>
<line x1="118.7" y1="191.1" x2="130.5" y2="191.1"/>
<line x1="118.7" y1="12.2" x2="130.5" y2="12.2"/>
</g>
<g font-size="33.3">
<text x="130.5" y="955.6" text-anchor="middle">5</text>
<text x="330.7" y="955.6" text-anchor="middle">10</text>
<text x="530.8" y="955.6" text-anchor="middle">15</text>
<text x="731" y="955.6" text-anchor="middle">20</text>
<text x="931.2" y="955.6" text-anchor="middle">25</text>
<text x="1131.3" y="955.6" text-anchor="middle">30</text>
<text x="1331.5" y="955.6" text-anchor="middle">35</text>
<text x="106.7" y="919.2" text-anchor="end">10</text>
<text x="106.7" y="740.3" text-anchor="end">15</text>
<text x="106.7" y="561.5" text-anchor="end">20</text>
<text x="106.7" y="382.6" text-anchor="end">25</text>
<text x="106.7" y="203.8" text-anchor="end">30</text>
<text x="106.7" y="24.9" text-anchor="end">35</text>
</g>
<g font-size="50.5">
<text x="731" y="1012.4" text-anchor="middle">Fs (mol %)</text>
<text transform="translate(38.4 462) rotate(-90)" text-anchor="middle" word-spacing="2">Fa (mol %)</text>
</g>
<rect x="858.9" y="761.7" width="455.9" height="128.5" rx="5" ry="5" fill="#fff" stroke="#333" stroke-width="3.3"/>
<path d="M892.8 777.3l19.3 19.3l-19.3 19.3l-19.3 -19.3z" fill="#f00" stroke="#000" stroke-width="3"/>
<circle cx="892.8" cy="855.6" r="15.25" fill="#00f" stroke="#000" stroke-width="3"/>
<g font-size="43.75">
<text x="926.2" y="808.3">(35107) 1991 VH</text>
<text x="926.2" y="867.5">25143 Itokawa</text>
</g>
</svg>
</body></html>
